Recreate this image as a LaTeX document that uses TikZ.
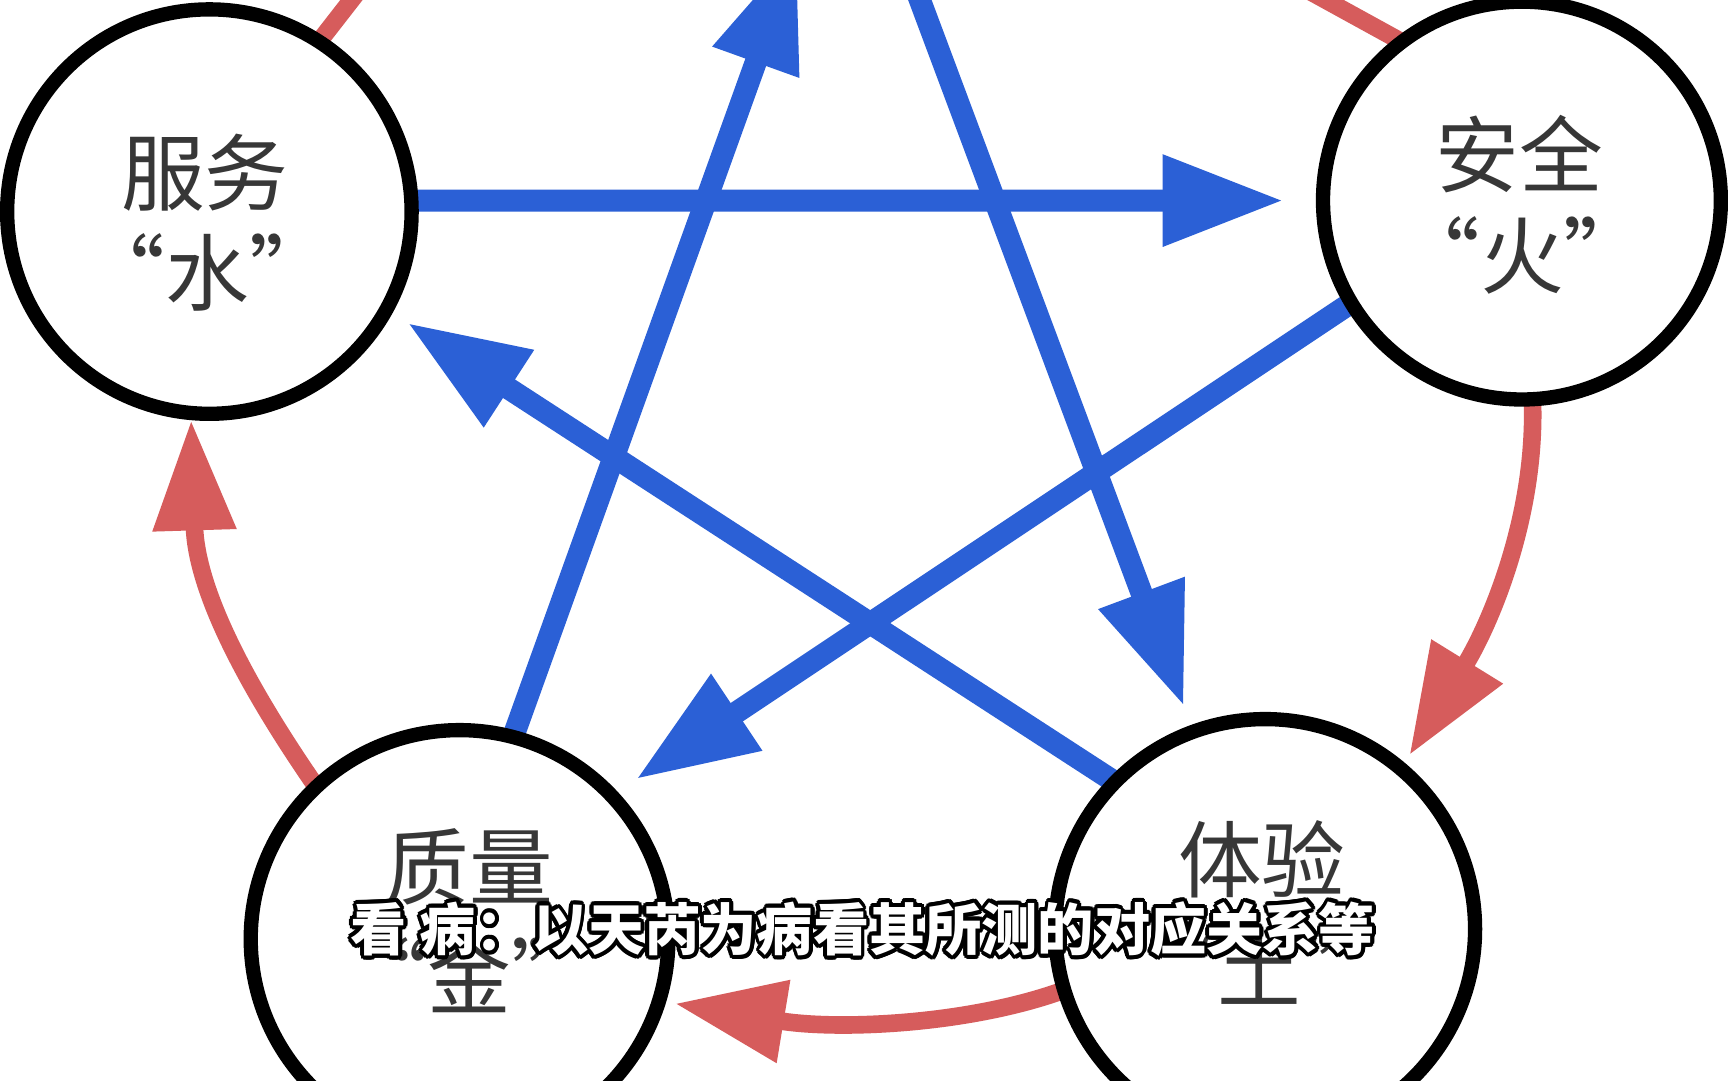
\documentclass[tikz,border=0pt]{standalone}
\usepackage{fontspec}
\newfontfamily\labfont{Noto Sans CJK SC}
\newfontfamily\subfont{Noto Sans CJK SC}
\usetikzlibrary{arrows.meta,calc}
\definecolor{starblue}{RGB}{43,96,214}
\definecolor{cyclered}{RGB}{214,92,92}
\definecolor{labgray}{RGB}{55,55,55}
\pgfdeclarelayer{paper}
\pgfdeclarelayer{back}
\pgfsetlayers{paper,back,main}
\newcommand\subtxt{看 病：以天芮为病看其所测的对应关系等}
\tikzset{
  elem/.style={circle, draw=black, line width=13pt, fill=white, inner sep=0pt},
  lab/.style={font=\labfont\fontsize{76}{88}\selectfont, text=labgray, inner sep=0pt},
  bluearr/.style={draw=starblue, line width=20pt, -{Triangle[length=110pt,width=78pt]}},
  redarr/.style={draw=cyclered, line width=16pt, -{Triangle[length=100pt,width=72pt]}},
  redline/.style={draw=cyclered, line width=16pt},
  subt/.style={font=\subfont\bfseries\fontsize{51}{60}\selectfont, inner sep=0pt}
}
\begin{document}
\begin{tikzpicture}[x=1pt,y=-1pt]
\useasboundingbox (0,0) rectangle (1568,980);
\begin{pgfonlayer}{paper}
\fill[white] (0,0) rectangle (1568,980);
\end{pgfonlayer}
\clip (0,0) rectangle (1568,980);

% element circles
\node[elem, minimum size=367pt] (S) at (190,192) {};
\node[elem, minimum size=361pt] (A) at (1381,182) {};
\node[elem, minimum size=379pt] (Z) at (417,852) {};
\node[elem, minimum size=381pt] (T) at (1148,843) {};

% labels
\node[lab] (S1) at (186,157) {服务};
\node[lab] (S2) at (188,247) {“水”};
\node[lab] (A1) at (1379,140) {安全};
\node[lab] (A2) at (1381,232) {“火”};
\node[lab] (Z1) at (426,787) {质量};
\node[lab] (Z2) at (426,885) {“金”};
\node[lab] (T1) at (1145,780) {体验};
\node[lab] (T2) at (1143,878) {“土”};

% off-canvas points
\coordinate (WL) at (723,-47);
\coordinate (WR) at (816,-50);
\coordinate (RL) at (350,-40);
\coordinate (RR) at (1130,-40);

\begin{pgfonlayer}{back}
% blue star
\draw[bluearr, shorten <=-8pt, shorten >=29pt] (S.3) -- (A.180);
\draw[bluearr, shorten <=-8pt] (Z.75) -- (WL);
\draw[bluearr, shorten >=18pt] (WR) -- (T.110);
\draw[bluearr, shorten <=-8pt, shorten >=20pt] (A.211) -- (Z.43);
\draw[bluearr, shorten <=-8pt, shorten >=16pt] (T.136) -- (S.331);
% red cycle
\draw[redarr, shorten <=-8pt] (Z.133) .. controls (215,610) and (178,530) .. (S.265);
\draw[redarr, shorten <=-8pt, shorten >=8pt] (A.273) .. controls (1395,470) and (1350,570) .. (T.50);
\draw[redarr, shorten <=-8pt, shorten >=8pt] (T.197) .. controls (880,930) and (760,935) .. (Z.343);
\draw[redline, shorten <=-8pt] (S.57) -- (RL);
\draw[redline, shorten >=-8pt] (RR) -- (A.128);
\end{pgfonlayer}

% subtitle with outline
\foreach \a [count=\i] in {0,22.5,...,337.5}
  \node[subt, text=black] (sh\i) at ($(783,843)+(\a:3.5)$) {\subtxt};
\node[subt, text=white] (sub) at (783,843) {\subtxt};
\end{tikzpicture}
\end{document}
